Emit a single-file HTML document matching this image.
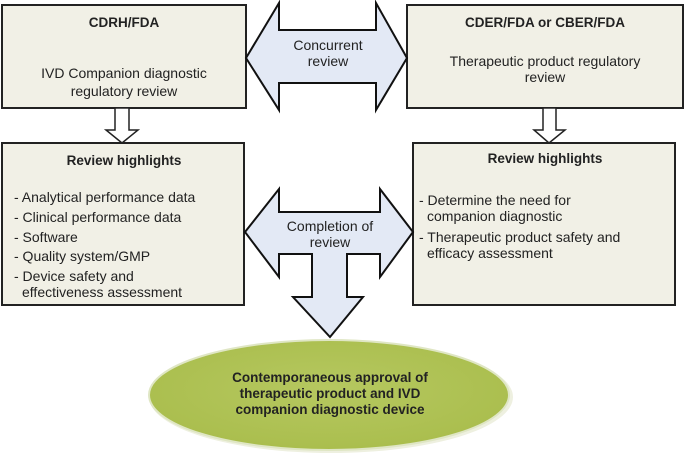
<!DOCTYPE html>
<html><head><style>
body{margin:0;background:#fff;}
svg text{font-family:"Liberation Sans",Arial,sans-serif;fill:#222;}
</style></head><body>
<svg width="685" height="460" viewBox="0 0 685 460" xmlns="http://www.w3.org/2000/svg">
<defs>
<radialGradient id="g" cx="50%" cy="45%" r="60%">
<stop offset="0" stop-color="#b6c860"/><stop offset="1" stop-color="#a9bd4c"/>
</radialGradient>
</defs>
<g stroke="#222" stroke-width="2" fill="#f1f0e6">
<rect x="2" y="5" width="244" height="103"/>
<rect x="407" y="5" width="276" height="103"/>
<rect x="2" y="143" width="242" height="162"/>
<rect x="413" y="143" width="262" height="162"/>
</g>
<g stroke="#222" stroke-width="1.5" fill="#fff">
<polygon points="115,108 129,108 129,130 138,130 122,143 106,130 115,130"/>
<polygon points="543,108 556,108 556,130 565,130 549,143 534,130 543,130"/>
</g>
<g stroke="#111" stroke-width="2" fill="#e3e9f5">
<polygon points="246,58 279,3 279,30 376,30 376,3 407,58 376,110 376,83 279,83 279,110"/>
<polygon points="245,232 279,189 279,212 380,212 380,189 413,232 380,277 380,254 347,254 347,297 363,297 330,337 293,297 312,297 312,254 279,254 279,277"/>
</g>
<ellipse cx="331" cy="397" rx="182" ry="56" fill="#eef0e0"/>
<ellipse cx="329" cy="395" rx="180" ry="55" fill="url(#g)" stroke="#dfe6c4" stroke-width="2"/>
<g font-size="14" text-anchor="middle">
<text x="124" y="27" font-weight="bold" font-size="13.5">CDRH/FDA</text>
<text x="124" y="78">IVD Companion diagnostic</text>
<text x="124" y="96">regulatory review</text>
<text x="545" y="27" font-weight="bold" font-size="13.5">CDER/FDA or CBER/FDA</text>
<text x="545" y="66">Therapeutic product regulatory</text>
<text x="545" y="82">review</text>
<text x="328" y="50">Concurrent</text>
<text x="328" y="66">review</text>
<text x="330" y="231">Completion of</text>
<text x="330" y="247">review</text>
<text x="124" y="165" font-weight="bold" font-size="13.5">Review highlights</text>
<text x="545" y="163" font-weight="bold" font-size="13.5">Review highlights</text>
<g font-weight="bold" font-size="13.5">
<text x="330" y="382">Contemporaneous approval of</text>
<text x="330" y="398">therapeutic product and IVD</text>
<text x="330" y="414">companion diagnostic device</text>
</g>
</g>
<g font-size="14">
<text x="14" y="202">-  Analytical performance data</text>
<text x="14" y="222">- Clinical performance data</text>
<text x="14" y="242">- Software</text>
<text x="14" y="261">- Quality system/GMP</text>
<text x="14" y="281">- Device safety and</text>
<text x="22" y="297">effectiveness assessment</text>
<text x="419" y="205">- Determine the need for</text>
<text x="427" y="221">companion diagnostic</text>
<text x="419" y="242">- Therapeutic product safety and</text>
<text x="427" y="258">efficacy assessment</text>
</g>
</svg>
</body></html>
